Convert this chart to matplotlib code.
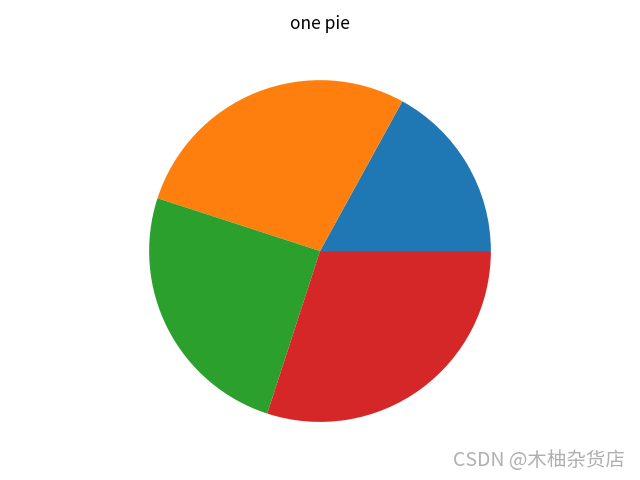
import matplotlib
matplotlib.use("Agg")
import matplotlib.pyplot as plt

plt.rcParams['font.family'] = ['Noto Sans CJK SC', 'DejaVu Sans']

labels = ['A', 'B', 'C', 'D']
values = [17, 28, 25, 30]
colors = ['#1f77b4', '#ff7f0e', '#2ca02c', '#d62728']

fig, ax = plt.subplots(figsize=(6.4, 4.8), dpi=100)
fig.subplots_adjust(left=0.1, right=0.9, bottom=0.032, top=0.922)
ax.pie(values, colors=colors)
ax.set_title('one pie', fontsize=12.5)
fig.text(0.977, 0.018, 'CSDN @木柚杂货店', ha='right', va='bottom',
         fontsize=14, color='#b0b0b0')
fig.savefig('out.png', dpi=100)
